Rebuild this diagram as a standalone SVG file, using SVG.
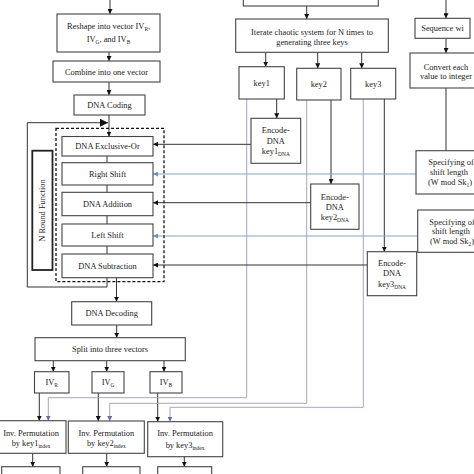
<svg xmlns="http://www.w3.org/2000/svg" width="474" height="474" viewBox="0 0 474 474">
<style>
.b{fill:#fff;stroke:#444;stroke-width:1.1}
.t{font-family:"Liberation Serif","Times New Roman",serif;font-size:8.4px;fill:#222;text-anchor:middle}
.s{font-size:5.4px}
.k{fill:none;stroke:#333;stroke-width:1}
.bl{fill:none;stroke:#86a2c8;stroke-width:1}
.pu{fill:none;stroke:#aaa6be;stroke-width:1}
</style>
<defs>
<marker id="ak" viewBox="0 0 10 10" refX="10" refY="5" markerWidth="5" markerHeight="5" orient="auto" markerUnits="userSpaceOnUse"><path d="M0,0L10,5L0,10z" fill="#111"/></marker>
<marker id="ak2" viewBox="0 0 10 10" refX="10" refY="5" markerWidth="8" markerHeight="8" orient="auto" markerUnits="userSpaceOnUse"><path d="M0,0L10,5L0,10z" fill="#111"/></marker>
<marker id="ab" viewBox="0 0 10 10" refX="10" refY="5" markerWidth="5" markerHeight="5" orient="auto" markerUnits="userSpaceOnUse"><path d="M0,0L10,5L0,10z" fill="#6f8fbf"/></marker>
<marker id="ap" viewBox="0 0 10 10" refX="10" refY="5" markerWidth="5" markerHeight="5" orient="auto" markerUnits="userSpaceOnUse"><path d="M0,0L10,5L0,10z" fill="#6a6a9c"/></marker>
</defs>

<g id="connectors">
<line class="k" x1="110" y1="0" x2="110" y2="14" marker-end="url(#ak)"/>
<line class="k" x1="109" y1="52" x2="109" y2="61" marker-end="url(#ak)"/>
<line class="k" x1="109" y1="82" x2="109" y2="95" marker-end="url(#ak)"/>
<line class="k" x1="109" y1="115" x2="109" y2="136.5" marker-end="url(#ak)"/>
<polyline class="k" points="107,277.7 107,287 27.3,287 27.3,122.7 108,122.7" marker-end="url(#ak2)"/>
<line class="k" x1="107" y1="156" x2="107" y2="162.7"/>
<line class="k" x1="107" y1="185" x2="107" y2="192.3"/>
<line class="k" x1="107" y1="215.7" x2="107" y2="224"/>
<line class="k" x1="107" y1="246" x2="107" y2="254"/>
<line class="k" x1="116.5" y1="277.7" x2="116.5" y2="301.7" marker-end="url(#ak)"/>
<line class="k" x1="116.7" y1="325" x2="116.7" y2="337.7" marker-end="url(#ak)"/>
<line class="k" x1="53.3" y1="360.7" x2="53.3" y2="371.7" marker-end="url(#ak)"/>
<line class="k" x1="106.7" y1="360.7" x2="106.7" y2="371.7" marker-end="url(#ak)"/>
<line class="k" x1="164" y1="360.7" x2="164" y2="371.7" marker-end="url(#ak)"/>
<line class="k" x1="39.3" y1="393" x2="39.3" y2="420.7" marker-end="url(#ak)"/>
<line class="k" x1="98.3" y1="393" x2="98.3" y2="421" marker-end="url(#ak)"/>
<line class="k" x1="157.7" y1="393" x2="157.7" y2="421.7" marker-end="url(#ak)"/>
<line class="k" x1="32.7" y1="453.3" x2="32.7" y2="466.7" marker-end="url(#ak)"/>
<line class="k" x1="106.7" y1="453.3" x2="106.7" y2="466.7" marker-end="url(#ak)"/>
<line class="k" x1="184.3" y1="456.7" x2="184.3" y2="466.7" marker-end="url(#ak)"/>
<polyline class="pu" points="246.7,99 246.7,397.7 48.3,397.7 48.3,420.7" marker-end="url(#ap)"/>
<polyline class="pu" points="306.7,100 306.7,403.3 109.7,403.3 109.7,421" marker-end="url(#ap)"/>
<polyline class="pu" points="363.3,99 363.3,407.3 170,407.3 170,421.7" marker-end="url(#ap)"/>
<line class="k" x1="306.7" y1="6" x2="306.7" y2="19" marker-end="url(#ak)"/>
<line class="k" x1="265.7" y1="52.3" x2="265.7" y2="66.7" marker-end="url(#ak)"/>
<line class="k" x1="317.7" y1="52.3" x2="317.7" y2="68.3" marker-end="url(#ak)"/>
<line class="k" x1="361.7" y1="52.3" x2="361.7" y2="68.3" marker-end="url(#ak)"/>
<line class="k" x1="276.7" y1="99" x2="276.7" y2="118.3" marker-end="url(#ak)"/>
<line class="k" x1="331" y1="100" x2="331" y2="184" marker-end="url(#ak)"/>
<line class="k" x1="384.3" y1="99" x2="384.3" y2="251.7" marker-end="url(#ak)"/>
<line class="k" x1="251" y1="144.3" x2="153" y2="144.3" marker-end="url(#ak)"/>
<line class="k" x1="310.7" y1="202.7" x2="153" y2="202.7" marker-end="url(#ak)"/>
<line class="k" x1="367.3" y1="265" x2="153" y2="265" marker-end="url(#ak)"/>
<line class="bl" x1="416" y1="174" x2="153" y2="174" marker-end="url(#ab)"/>
<line class="bl" x1="417.7" y1="236" x2="153" y2="236" marker-end="url(#ab)"/>
<line class="k" x1="446" y1="0" x2="446" y2="18.3" marker-end="url(#ak)"/>
<line class="k" x1="446" y1="38.3" x2="446" y2="53" marker-end="url(#ak)"/>
<line class="k" x1="446" y1="88" x2="446" y2="150.7"/>
</g>

<g id="round-group"><rect x="56" y="128.3" width="108" height="153.4" fill="none" stroke="#111" stroke-width="1.3" stroke-dasharray="3,2"/></g>
<g id="n-round"><rect x="32.3" y="150.7" width="20.2" height="119.3" fill="#fff" stroke="#222" stroke-width="1.8"/><text class="t" transform="translate(45.3,210.5) rotate(-90)">N Round Function</text></g>

<g id="reshape"><rect class="b" x="57" y="14" width="103" height="38"/><text class="t" x="108.5" y="29">Reshape into vector IV<tspan class="s" dy="2">R</tspan><tspan dy="-2">,</tspan></text><text class="t" x="108.5" y="42">IV<tspan class="s" dy="2">G</tspan><tspan dy="-2">, and IV</tspan><tspan class="s" dy="2">B</tspan></text></g>
<g id="combine"><rect class="b" x="53" y="61" width="107" height="21"/><text class="t" x="106.5" y="74.5">Combine into one vector</text></g>
<g id="dna-coding"><rect class="b" x="74" y="95" width="71" height="20"/><text class="t" x="109.5" y="108">DNA Coding</text></g>
<g id="xor"><rect class="b" x="62" y="136.5" width="91" height="19.5"/><text class="t" x="107.5" y="149">DNA Exclusive-Or</text></g>
<g id="right-shift"><rect class="b" x="62" y="162.7" width="91" height="22.3"/><text class="t" x="107.5" y="177">Right Shift</text></g>
<g id="dna-add"><rect class="b" x="62" y="192.3" width="91" height="23.4"/><text class="t" x="107.5" y="207">DNA Addition</text></g>
<g id="left-shift"><rect class="b" x="62" y="224" width="91" height="22"/><text class="t" x="107.5" y="238">Left Shift</text></g>
<g id="dna-sub"><rect class="b" x="62" y="254" width="91" height="23.7"/><text class="t" x="107.5" y="269">DNA Subtraction</text></g>
<g id="dna-decoding"><rect class="b" x="71.7" y="301.7" width="80" height="23.3"/><text class="t" x="111.7" y="316.3">DNA Decoding</text></g>
<g id="split"><rect class="b" x="35" y="337.7" width="150.3" height="23"/><text class="t" x="110" y="352">Split into three vectors</text></g>
<g id="iv-r"><rect class="b" x="34.5" y="371.7" width="34.5" height="21.3"/><text class="t" x="51.7" y="385">IV<tspan class="s" dy="2">R</tspan></text></g>
<g id="iv-g"><rect class="b" x="92" y="371.7" width="32" height="21.3"/><text class="t" x="108" y="385">IV<tspan class="s" dy="2">G</tspan></text></g>
<g id="iv-b"><rect class="b" x="150" y="371.7" width="32" height="21.3"/><text class="t" x="166" y="385">IV<tspan class="s" dy="2">B</tspan></text></g>
<g id="inv1"><rect class="b" x="-2" y="420.7" width="68" height="32.6"/><text class="t" x="31" y="436">Inv. Permutation</text><text class="t" x="31" y="446">by key1<tspan class="s" dy="2">index</tspan></text></g>
<g id="inv2"><rect class="b" x="68.3" y="421" width="76" height="32.3"/><text class="t" x="106.3" y="436">Inv. Permutation</text><text class="t" x="106.3" y="446">by key2<tspan class="s" dy="2">index</tspan></text></g>
<g id="inv3"><rect class="b" x="147.7" y="421.7" width="75" height="35"/><text class="t" x="185" y="436">Inv. Permutation</text><text class="t" x="185" y="448">by key3<tspan class="s" dy="2">index</tspan></text></g>
<g id="out1"><rect class="b" x="1.7" y="466.7" width="58.3" height="14"/></g>
<g id="out2"><rect class="b" x="82.7" y="466.7" width="57.3" height="14"/></g>
<g id="out3"><rect class="b" x="157.7" y="466.7" width="54" height="14"/></g>

<g id="top-mid"><rect class="b" x="243.3" y="-5" width="135" height="11"/></g>
<g id="iterate"><rect class="b" x="235.7" y="19" width="152.6" height="33.3"/><text class="t" x="312" y="34.5">Iterate chaotic system for N times to</text><text class="t" x="312" y="44.5">generating three keys</text></g>
<g id="key1"><rect class="b" x="239" y="66.7" width="45.3" height="32.3"/><text class="t" x="261.7" y="86">key1</text></g>
<g id="key2"><rect class="b" x="296.7" y="68.3" width="44.3" height="31.7"/><text class="t" x="318.8" y="87">key2</text></g>
<g id="key3"><rect class="b" x="350.7" y="68.3" width="45" height="30.7"/><text class="t" x="373.2" y="86.5">key3</text></g>
<g id="enc1"><rect class="b" x="251" y="118.3" width="49.7" height="45"/><text class="t" x="275.8" y="133">Encode-</text><text class="t" x="275.8" y="143.5">DNA</text><text class="t" x="275.8" y="154">key1<tspan class="s" dy="2">DNA</tspan></text></g>
<g id="enc2"><rect class="b" x="310.7" y="184" width="48.3" height="45.3"/><text class="t" x="334.8" y="199.5">Encode-</text><text class="t" x="334.8" y="209.5">DNA</text><text class="t" x="334.8" y="220">key2<tspan class="s" dy="2">DNA</tspan></text></g>
<g id="enc3"><rect class="b" x="367.3" y="251.7" width="49.4" height="44"/><text class="t" x="392" y="266">Encode-</text><text class="t" x="392" y="276">DNA</text><text class="t" x="392" y="287">key3<tspan class="s" dy="2">DNA</tspan></text></g>
<g id="sequence"><rect class="b" x="415" y="18.3" width="55" height="20"/><text class="t" x="442.5" y="31">Sequence wi</text></g>
<g id="convert"><rect class="b" x="410" y="53" width="70" height="35"/><text class="t" x="446" y="69.5">Convert each</text><text class="t" x="446" y="78.5">value to integer</text></g>
<g id="spec1"><rect class="b" x="416" y="150.7" width="64" height="43.3"/><text class="t" x="451" y="165">Specifying of</text><text class="t" x="449" y="174.5">shift length</text><text class="t" x="450" y="184.5">(W mod Sk<tspan class="s" dy="2">1</tspan><tspan dy="-2">)</tspan></text></g>
<g id="spec2"><rect class="b" x="417.7" y="210" width="62" height="42.3"/><text class="t" x="452" y="224.5">Specifying of</text><text class="t" x="451" y="234">shift length</text><text class="t" x="452" y="243.5">(W mod Sk<tspan class="s" dy="2">2</tspan><tspan dy="-2">)</tspan></text></g>
</svg>
